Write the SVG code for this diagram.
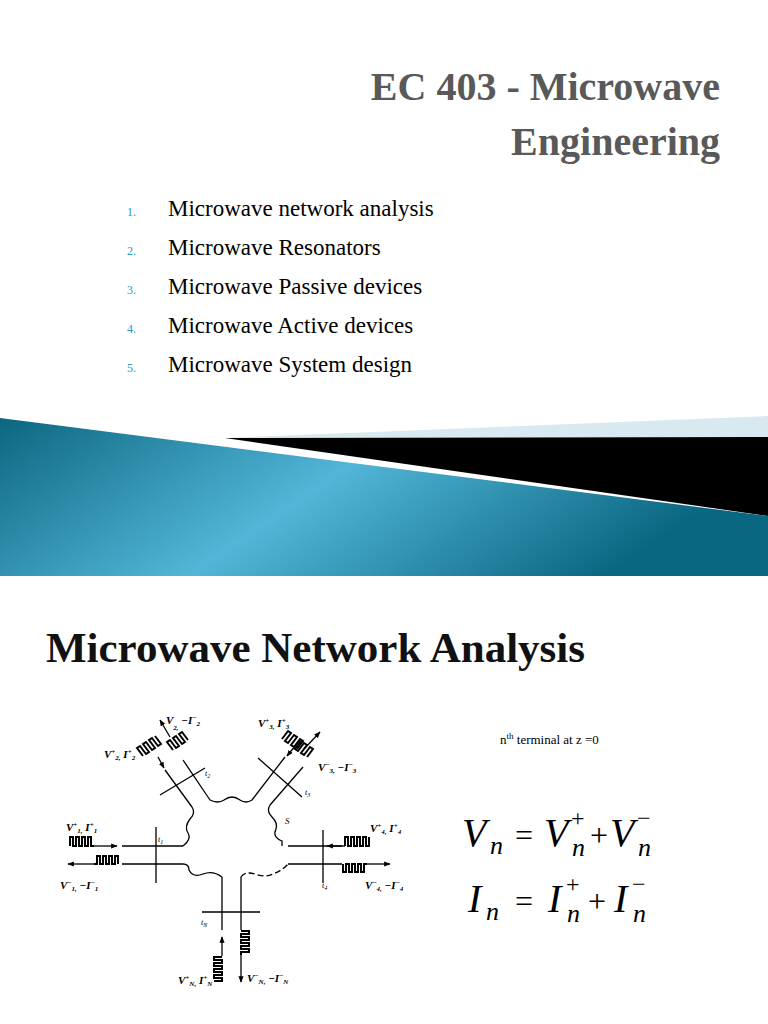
<svg xmlns="http://www.w3.org/2000/svg" width="768" height="1024" viewBox="0 0 768 1024">
<defs>
<linearGradient id="tg" x1="0" y1="0" x2="1" y2="0.3">
<stop offset="0" stop-color="#0c6680"/><stop offset="0.5" stop-color="#52b6d8"/><stop offset="1" stop-color="#0a6782"/>
</linearGradient>
<marker id="ah" viewBox="0 0 10 10" refX="9" refY="5" markerWidth="5" markerHeight="5" orient="auto"><path d="M0,1 L10,5 L0,9 z" fill="#000"/></marker>
<style>
.t{font-family:"Liberation Serif",serif}
.c{fill:none;stroke:#000;stroke-width:1.3}
.m{fill:none;stroke:#000;stroke-width:2}
.lb{font-family:"Liberation Serif",serif;font-style:italic;font-weight:bold;font-size:11px}
.li{font-family:"Liberation Serif",serif;font-size:23px;fill:#000}
.ln{font-family:"Liberation Serif",serif;font-size:12px;fill:#2a9ab8}
.eq{font-family:"Liberation Serif",serif;font-style:italic;font-size:40px}
.es{font-family:"Liberation Serif",serif;font-style:italic;font-size:26px}
.ep{font-family:"Liberation Serif",serif;font-size:24px}
.eo{font-family:"Liberation Serif",serif;font-size:32px}
</style>
</defs>
<rect width="768" height="1024" fill="#fff"/>
<g id="title">
<text class="t" x="720" y="100" font-size="40" font-weight="bold" fill="#595959" text-anchor="end">EC 403 - Microwave</text>
<text class="t" x="720" y="155" font-size="40" font-weight="bold" fill="#595959" text-anchor="end">Engineering</text>
</g>
<g id="list">
<text class="ln" x="127" y="216">1.</text><text class="li" x="168" y="216">Microwave network analysis</text>
<text class="ln" x="127" y="255">2.</text><text class="li" x="168" y="255">Microwave Resonators</text>
<text class="ln" x="127" y="294">3.</text><text class="li" x="168" y="294">Microwave Passive devices</text>
<text class="ln" x="127" y="333">4.</text><text class="li" x="168" y="333">Microwave Active devices</text>
<text class="ln" x="127" y="372">5.</text><text class="li" x="168" y="372">Microwave System design</text>
</g>
<g id="band">
<polygon points="225,438 768,416 768,437" fill="#d9e9f0"/>
<polygon points="225,438 768,437 768,516" fill="#000"/>
<polygon points="0,418 768,516 768,576 0,576" fill="url(#tg)"/>
</g>
<text class="t" x="46" y="662" font-size="43" font-weight="bold" fill="#111">Microwave Network Analysis</text>
<text class="t" x="500" y="744" font-size="13">n<tspan dy="-5" font-size="9">th</tspan><tspan dy="5"> terminal  at z =0</tspan></text>
<g id="eqs">
<text class="eq" x="462" y="846">V</text><text class="es" x="490" y="854">n</text>
<text class="eo" x="515" y="846">=</text>
<text class="eq" x="544" y="846">V</text><text class="ep" x="571" y="826">+</text><text class="es" x="572" y="856">n</text>
<text class="eo" x="590" y="846">+</text>
<text class="eq" x="610" y="846">V</text><text class="ep" x="637" y="826">−</text><text class="es" x="638" y="856">n</text>
<text class="eq" x="468" y="912">I</text><text class="es" x="486" y="920">n</text>
<text class="eo" x="515" y="912">=</text>
<text class="eq" x="548" y="912">I</text><text class="ep" x="566" y="892">+</text><text class="es" x="567" y="922">n</text>
<text class="eo" x="588" y="912">+</text>
<text class="eq" x="614" y="912">I</text><text class="ep" x="632" y="892">−</text><text class="es" x="633" y="922">n</text>
</g>
<g id="circuit">
<path class="c" d="M122,846 H183 M122,864 H183 M156,827 V883"/>
<path class="c" d="M288,846 H342 M288,864 H342 M323,830 V883"/>
<path class="c" d="M222,877 V930 M241,877 V930 M202,912 H260"/>
<path class="c" d="M192,807 L165,770 M210,800 L183,760 M160,795 L205,768"/>
<path class="c" d="M252,800 L285,757 M270,805 L303,767 M258,758 L302,797"/>
<path class="c" d="M210,800 q8,4 14,0 q8,-6 16,0 q6,4 12,0"/>
<path class="c" d="M270,805 q-4,6 2,12 q6,6 4,12 q-4,8 6,12 v5"/>
<path class="c" d="M192,807 q4,6 -2,12 q-6,8 -2,14 q4,6 -5,13"/>
<path class="c" d="M183,864 q6,0 6,6 q4,8 14,4 q10,-4 19,3"/>
<path class="c" d="M241,877 q4,-6 14,-3 q10,4 18,0 q10,-4 15,-10" stroke-dasharray="6,3"/>
<path class="m" d="M70,846 v-9 h3 v9 h3 v-9 h3 v9 h3 v-9 h3 v9 h3 v-9 h3 v9 h3" />
<path class="c" d="M94,846 H117" marker-end="url(#ah)"/>
<path class="m" d="M118,864 v-8 h-3 v8 h-3 v-8 h-3 v8 h-3 v-8 h-3 v8 h-3 v-8 h-3 v8 h-3"/>
<path class="c" d="M94,864 H68" marker-end="url(#ah)"/>
<path class="m" d="M345,846 v-9 h3 v9 h3 v-9 h3 v9 h3 v-9 h3 v9 h3 v-9 h3 v9 h3 v-9"/>
<path class="c" d="M345,846 H327" marker-end="url(#ah)"/>
<path class="m" d="M343,864 v8 h3 v-8 h3 v8 h3 v-8 h3 v8 h3 v-8 h3 v8 h3 v-8 h3"/>
<path class="c" d="M367,864 H390" marker-end="url(#ah)"/>
<path class="m" d="M222,957 h-8 v3 h8 v3 h-8 v3 h8 v3 h-8 v3 h8 v3 h-8 v3 h8 v3 h-8"/>
<path class="c" d="M222,956 V937" marker-end="url(#ah)"/>
<path class="m" d="M241,931 h8 v3 h-8 v3 h8 v3 h-8 v3 h8 v3 h-8 v3 h8 v3 h-8 v3"/>
<path class="c" d="M241,952 V982" marker-end="url(#ah)"/>
<path class="m" d="M165,770 l-6,-8 l3,-2 l6,8 l3,-2 l-6,-8 l3,-2 l6,8 l3,-2 l-6,-8 l3,-2 l6,8 l3,-2 l-6,-8" transform="translate(-22,-14)"/>
<path class="c" d="M158,757 L164,768" marker-end="url(#ah)"/>
<path class="m" d="M183,760 l-6,-8 l3,-2 l6,8 l3,-2 l-6,-8 l3,-2 l6,8 l3,-2 l-6,-8 l3,-2 l6,8" transform="translate(-10,-10)"/>
<path class="c" d="M170,737 L160,720" marker-end="url(#ah)"/>
<path class="m" d="M285,757 l6,-8 l-3,-2 l-6,8 l-3,-2 l6,-8 l-3,-2 l-6,8 l-3,-2 l6,-8 l-3,-2 l-6,8" transform="translate(12,-8)"/>
<path class="c" d="M300,740 L287,756" marker-end="url(#ah)"/>
<path class="m" d="M303,767 l6,-8 l-3,-2 l-6,8 l-3,-2 l6,-8 l-3,-2 l-6,8 l-3,-2 l6,-8" transform="translate(4,-10)"/>
<path class="c" d="M305,748 L320,732" marker-end="url(#ah)"/>
</g>
<g id="labels" class="lb">
<text x="66" y="831">V<tspan font-size="7" dy="-4">+</tspan><tspan font-size="7" dy="6">1,</tspan><tspan dy="-2"> I</tspan><tspan font-size="7" dy="-4">+</tspan><tspan font-size="7" dy="6">1</tspan></text>
<text x="60" y="889">V<tspan font-size="7" dy="-4">−</tspan><tspan font-size="7" dy="6">1,</tspan><tspan dy="-2"> −I</tspan><tspan font-size="7" dy="-4">−</tspan><tspan font-size="7" dy="6">1</tspan></text>
<text x="158" y="842" font-size="8" font-weight="normal">t<tspan font-size="6" dy="2">1</tspan></text>
<text x="370" y="832">V<tspan font-size="7" dy="-4">+</tspan><tspan font-size="7" dy="6">4,</tspan><tspan dy="-2"> I</tspan><tspan font-size="7" dy="-4">+</tspan><tspan font-size="7" dy="6">4</tspan></text>
<text x="365" y="889">V<tspan font-size="7" dy="-4">−</tspan><tspan font-size="7" dy="6">4,</tspan><tspan dy="-2"> −I</tspan><tspan font-size="7" dy="-4">−</tspan><tspan font-size="7" dy="6">4</tspan></text>
<text x="322" y="888" font-size="8" font-weight="normal">t<tspan font-size="6" dy="2">4</tspan></text>
<text x="285" y="824" font-size="9" font-weight="normal">S</text>
<text x="201" y="925" font-size="8" font-weight="normal">t<tspan font-size="6" dy="2">N</tspan></text>
<text x="178" y="984">V<tspan font-size="7" dy="-4">+</tspan><tspan font-size="7" dy="6">N,</tspan><tspan dy="-2"> I</tspan><tspan font-size="7" dy="-4">+</tspan><tspan font-size="7" dy="6">N</tspan></text>
<text x="247" y="982">V<tspan font-size="7" dy="-4">−</tspan><tspan font-size="7" dy="6">N,</tspan><tspan dy="-2"> −I</tspan><tspan font-size="7" dy="-4">−</tspan><tspan font-size="7" dy="6">N</tspan></text>
<text x="104" y="758">V<tspan font-size="7" dy="-4">+</tspan><tspan font-size="7" dy="6">2,</tspan><tspan dy="-2"> I</tspan><tspan font-size="7" dy="-4">+</tspan><tspan font-size="7" dy="6">2</tspan></text>
<text x="166" y="724">V<tspan font-size="7" dy="6">2,</tspan><tspan dy="-6"> −I</tspan><tspan font-size="7" dy="-4">−</tspan><tspan font-size="7" dy="6">2</tspan></text>
<text x="205" y="776" font-size="8" font-weight="normal">t<tspan font-size="6" dy="2">2</tspan></text>
<text x="258" y="727">V<tspan font-size="7" dy="-4">+</tspan><tspan font-size="7" dy="6">3,</tspan><tspan dy="-2"> I</tspan><tspan font-size="7" dy="-4">+</tspan><tspan font-size="7" dy="6">3</tspan></text>
<text x="318" y="771">V<tspan font-size="7" dy="-4">−</tspan><tspan font-size="7" dy="6">3,</tspan><tspan dy="-2"> −I</tspan><tspan font-size="7" dy="-4">−</tspan><tspan font-size="7" dy="6">3</tspan></text>
<text x="305" y="795" font-size="8" font-weight="normal">t<tspan font-size="6" dy="2">3</tspan></text>
</g>
</svg>
